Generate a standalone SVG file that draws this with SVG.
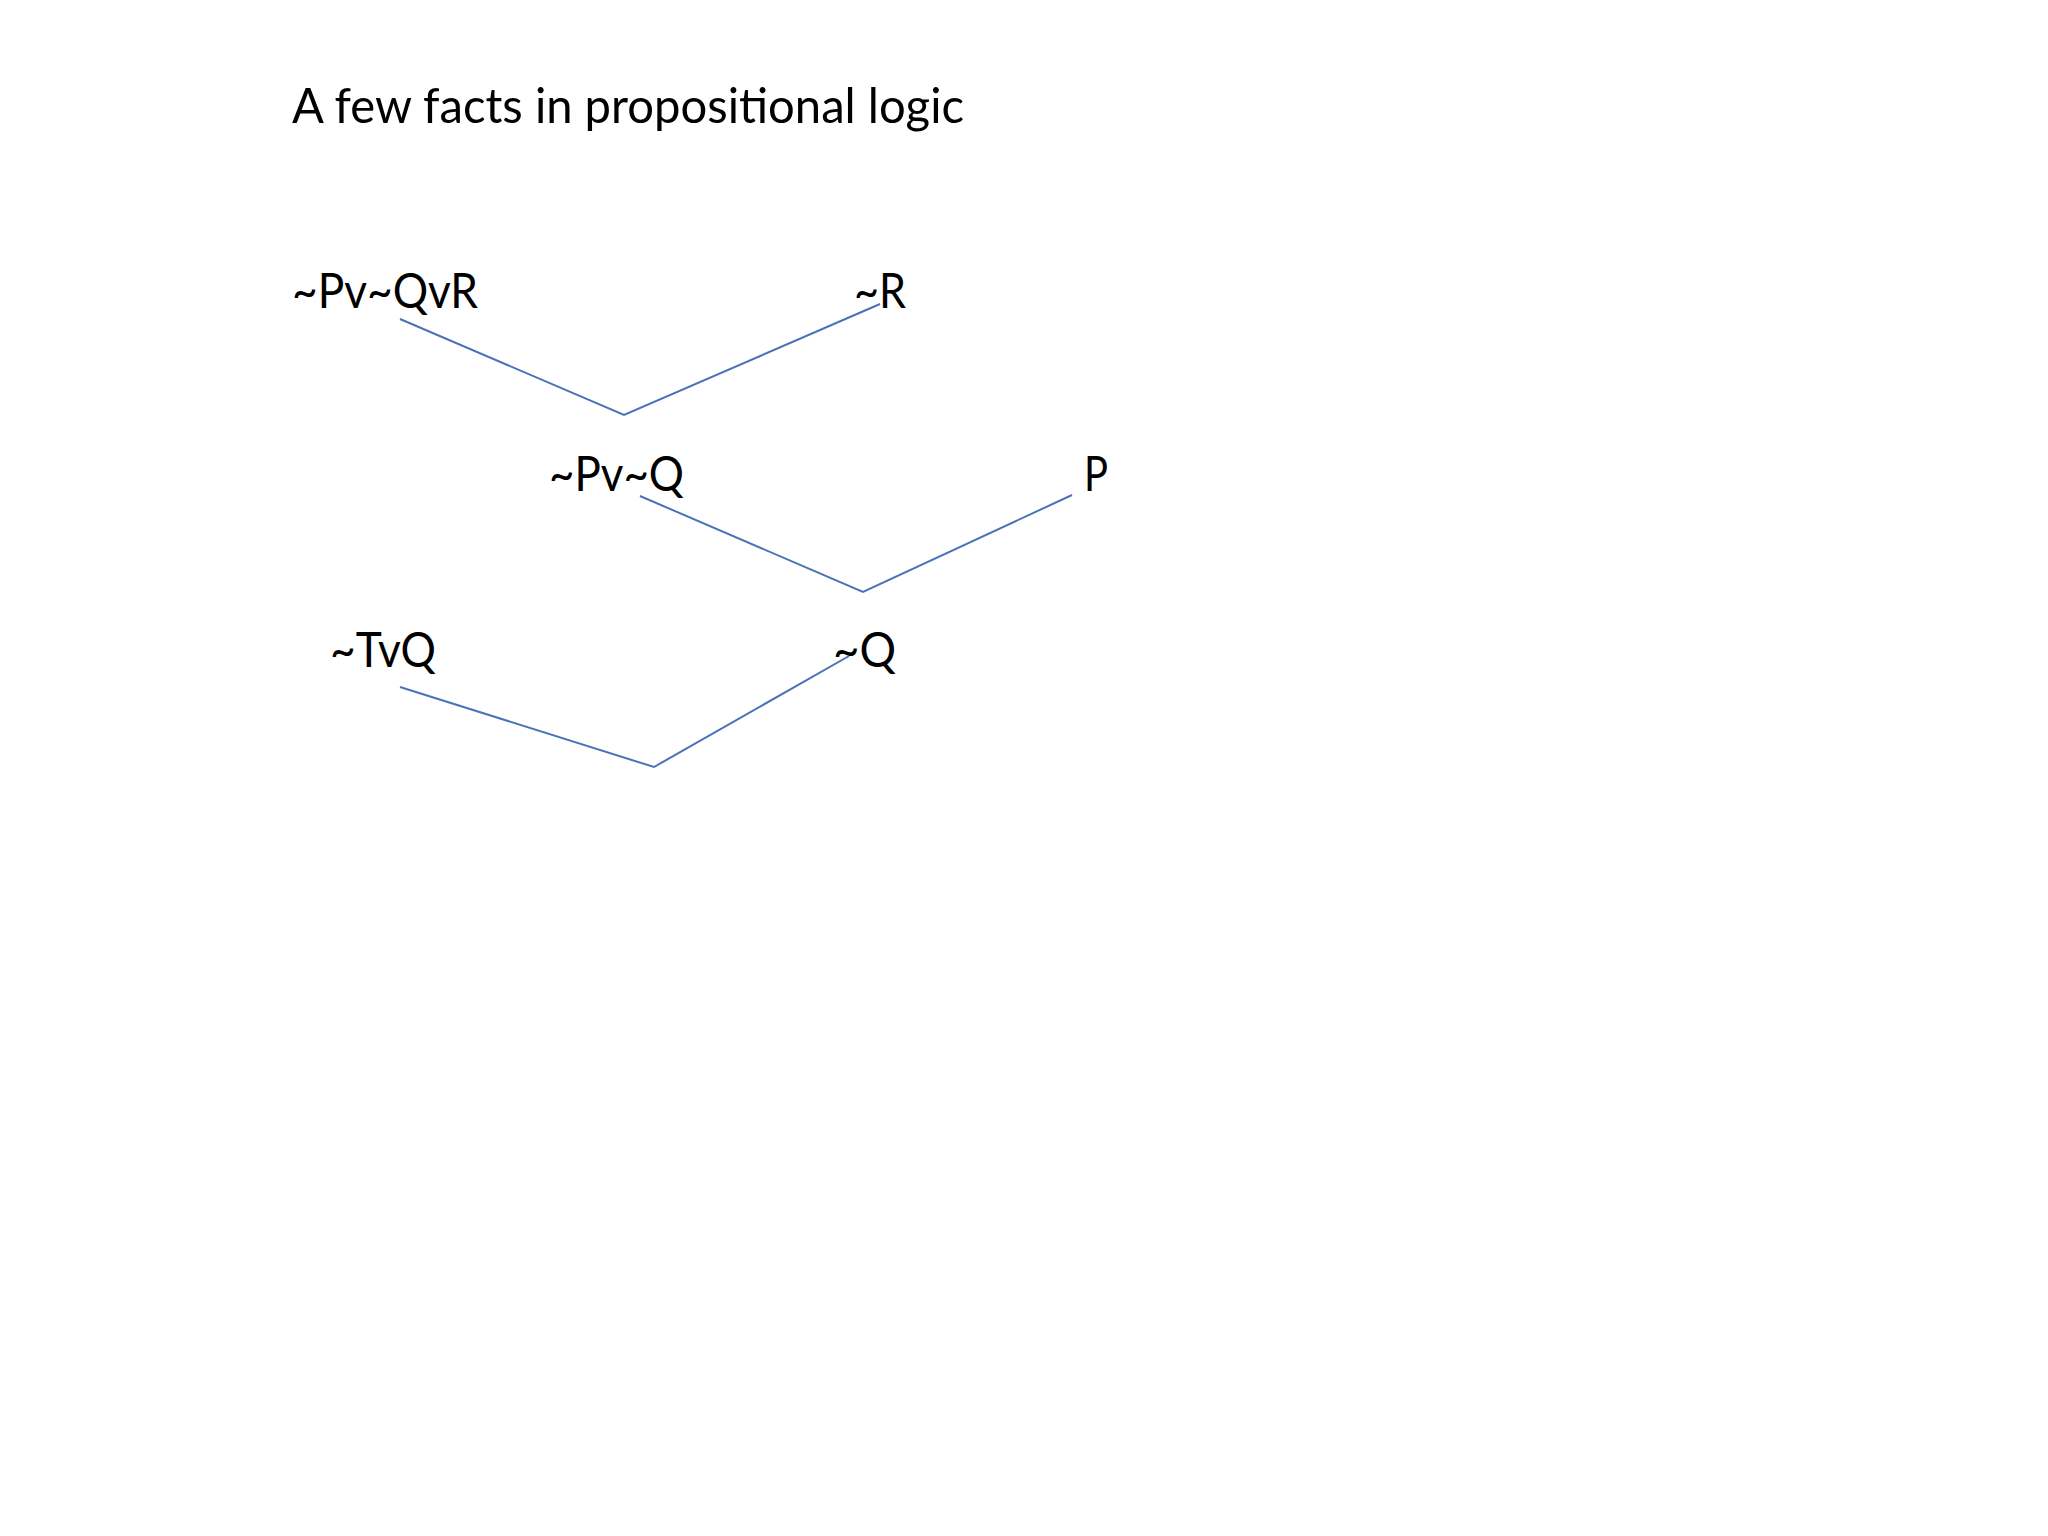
<svg xmlns="http://www.w3.org/2000/svg" width="2048" height="1536" viewBox="0 0 2048 1536">
<style>
text{font-family:Lato,"Liberation Sans",Arial,sans-serif;font-size:49px;fill:#000}
.c{fill:none;stroke:#4A72B8;stroke-width:2}
</style>
<rect width="2048" height="1536" fill="#fff"/>
<g id="title"><text x="292" y="123" textLength="672" lengthAdjust="spacingAndGlyphs">A few facts in propositional logic</text></g>
<g id="n1"><text x="292" y="308" textLength="186" lengthAdjust="spacingAndGlyphs">~Pv~QvR</text></g>
<g id="n2"><text x="854" y="308" textLength="52" lengthAdjust="spacingAndGlyphs">~R</text></g>
<g id="n3"><text x="549" y="491" textLength="135" lengthAdjust="spacingAndGlyphs">~Pv~Q</text></g>
<g id="n4"><text x="1084" y="491" textLength="24" lengthAdjust="spacingAndGlyphs">P</text></g>
<g id="n5"><text x="330" y="667" textLength="106" lengthAdjust="spacingAndGlyphs">~TvQ</text></g>
<g id="n6"><text x="833" y="667" textLength="63" lengthAdjust="spacingAndGlyphs">~Q</text></g>
<g id="connectors">
<polyline class="c" points="400,319 624,415 880,304"/>
<polyline class="c" points="640,496 863,592 1072,495"/>
<polyline class="c" points="400,687 654,767 849,656"/>
</g>
</svg>
